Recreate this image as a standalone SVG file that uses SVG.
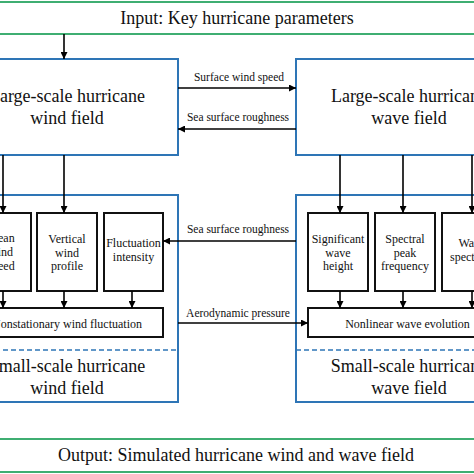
<svg xmlns="http://www.w3.org/2000/svg" width="474" height="474" viewBox="0 0 474 474">
<defs>
<marker id="ah" viewBox="0 0 10 10" refX="10" refY="5" markerWidth="7" markerHeight="7" markerUnits="userSpaceOnUse" orient="auto"><path d="M0,0 L10,5 L0,10 z" fill="#000"/></marker>
<style>
.g{fill:#fff;stroke:#3fae72;stroke-width:2}
.b{fill:#fff;stroke:#2e75b6;stroke-width:2}
.k{fill:#fff;stroke:#111;stroke-width:2}
text{font-family:"Liberation Serif","Times New Roman",serif;fill:#111;text-anchor:middle}
.big{font-size:18px}
.mid{font-size:12px}
.sm{font-size:11.5px}
.c{stroke:#000;stroke-width:1.6;fill:none;marker-end:url(#ah)}
.d{stroke:#2e75b6;stroke-width:1.5;stroke-dasharray:5,3;fill:none}
</style>
</defs>
<rect width="474" height="474" fill="#fff"/>
<g id="input"><rect class="g" x="-5" y="2" width="484" height="32"/><text class="big" x="237" y="24">Input: Key hurricane parameters</text></g>
<g id="ls-wind"><rect class="b" x="-5" y="59" width="183" height="96"/><text class="big" x="67" y="102">Large-scale hurricane</text><text class="big" x="67" y="124">wind field</text></g>
<g id="ls-wave"><rect class="b" x="296" y="59" width="185" height="96"/><text class="big" x="409" y="102">Large-scale hurricane</text><text class="big" x="409" y="124">wave field</text></g>
<g id="ss-wind"><rect class="b" x="-5" y="195" width="183" height="207"/><line class="d" x1="-5" y1="350" x2="178" y2="350"/><text class="big" x="67" y="372">Small-scale hurricane</text><text class="big" x="67" y="394">wind field</text></g>
<g id="ss-wave"><rect class="b" x="296" y="195" width="185" height="207"/><line class="d" x1="296" y1="350" x2="481" y2="350"/><text class="big" x="409" y="372">Small-scale hurricane</text><text class="big" x="409" y="394">wave field</text></g>
<g id="mean"><rect class="k" x="-29" y="213" width="60" height="78"/><text class="mid" x="1" y="242">Mean</text><text class="mid" x="1" y="256">wind</text><text class="mid" x="1" y="270">speed</text></g>
<g id="vertical"><rect class="k" x="37" y="213" width="60" height="78"/><text class="mid" x="67" y="243">Vertical</text><text class="mid" x="67" y="256.5">wind</text><text class="mid" x="67" y="270">profile</text></g>
<g id="fluct"><rect class="k" x="104" y="213" width="59" height="78"/><text class="mid" x="133.5" y="247">Fluctuation</text><text class="mid" x="133.5" y="261">intensity</text></g>
<g id="nonstat"><rect class="k" x="-10" y="308" width="173" height="29"/><text class="mid" x="67" y="327.5">Nonstationary wind fluctuation</text></g>
<g id="sig"><rect class="k" x="308" y="213" width="60" height="78"/><text class="mid" x="338" y="243">Significant</text><text class="mid" x="338" y="256.5">wave</text><text class="mid" x="338" y="270">height</text></g>
<g id="spectral"><rect class="k" x="375" y="213" width="60" height="78"/><text class="mid" x="405" y="243">Spectral</text><text class="mid" x="405" y="256.5">peak</text><text class="mid" x="405" y="270">frequency</text></g>
<g id="wavespec"><rect class="k" x="442" y="213" width="60" height="78"/><text class="mid" x="472" y="247">Wave</text><text class="mid" x="472" y="261">spectrum</text></g>
<g id="nonlin"><rect class="k" x="308" y="308" width="180" height="29"/><text class="mid" x="407.5" y="327.5">Nonlinear wave evolution</text></g>
<g id="output"><rect class="g" x="-5" y="439" width="484" height="33"/><text class="big" x="236" y="461">Output: Simulated hurricane wind and wave field</text></g>
<g id="connectors">
<line class="c" x1="64" y1="34" x2="64" y2="59"/>
<line class="c" x1="178" y1="88" x2="296" y2="88"/>
<text class="sm" x="239" y="81">Surface wind speed</text>
<line class="c" x1="296" y1="129" x2="178" y2="129"/>
<text class="sm" x="238" y="121">Sea surface roughness</text>
<line class="c" x1="64" y1="155" x2="64" y2="213"/>
<line class="c" x1="3" y1="155" x2="3" y2="213"/>
<line class="c" x1="340" y1="155" x2="340" y2="213"/>
<line class="c" x1="403" y1="155" x2="403" y2="213"/>
<line class="c" x1="472" y1="155" x2="472" y2="213"/>
<line class="c" x1="296" y1="241" x2="163" y2="241"/>
<text class="sm" x="238" y="233">Sea surface roughness</text>
<line class="c" x1="3" y1="291" x2="3" y2="308"/>
<line class="c" x1="64" y1="291" x2="64" y2="308"/>
<line class="c" x1="132" y1="291" x2="132" y2="308"/>
<line class="c" x1="340" y1="291" x2="340" y2="308"/>
<line class="c" x1="403" y1="291" x2="403" y2="308"/>
<line class="c" x1="472" y1="291" x2="472" y2="308"/>
<line class="c" x1="178" y1="323" x2="308" y2="323"/>
<text class="sm" x="238" y="316.5">Aerodynamic pressure</text>
</g>
</svg>
